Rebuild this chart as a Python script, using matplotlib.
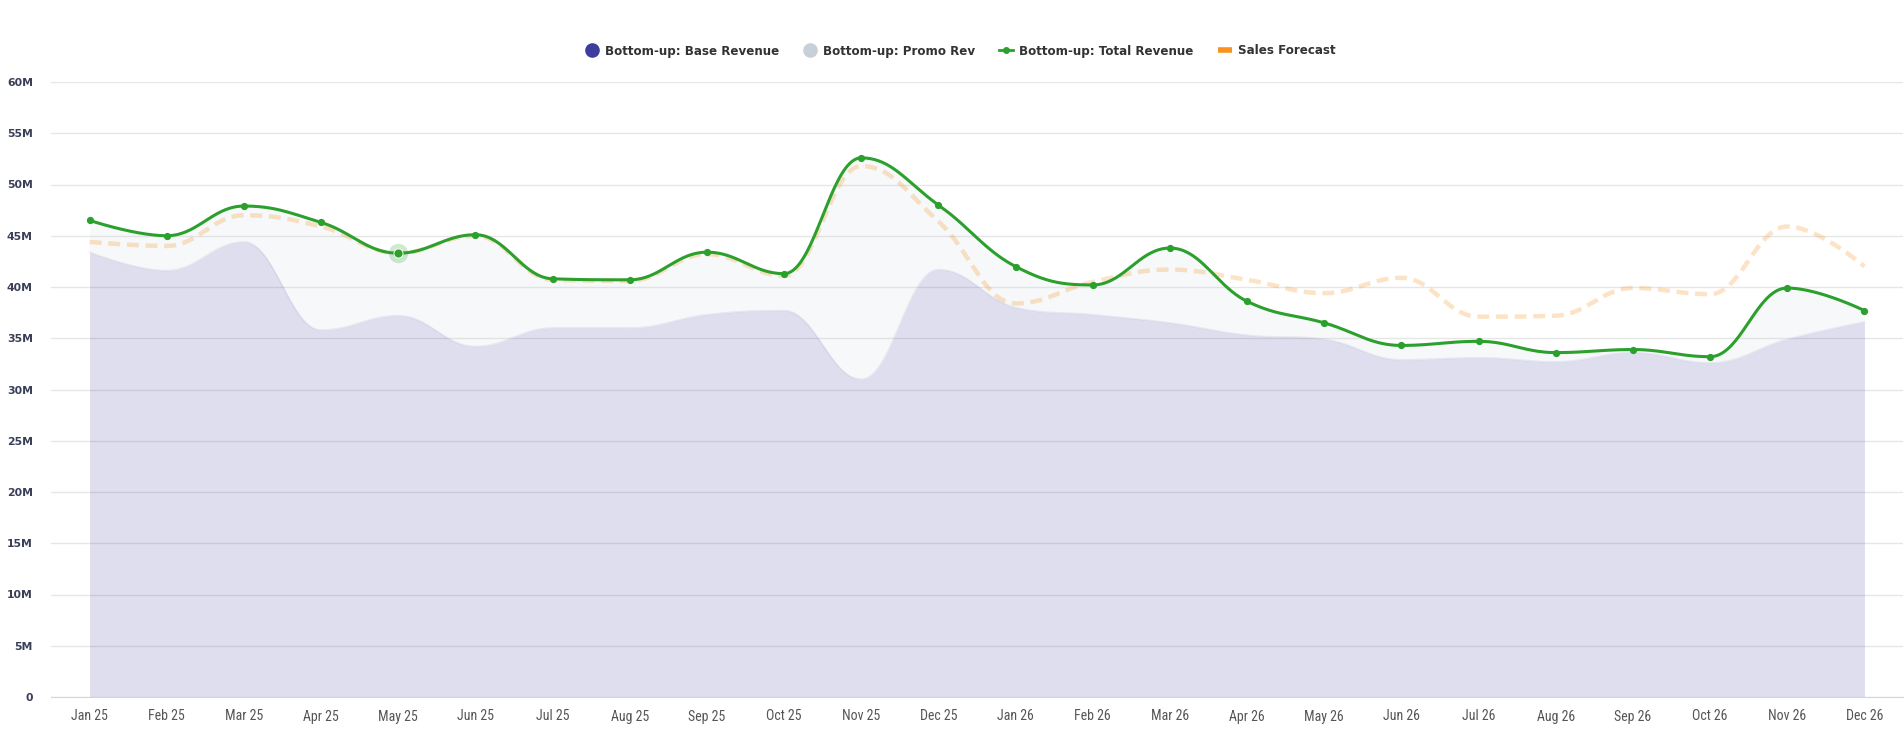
import numpy as np
import matplotlib
matplotlib.use('Agg')
from matplotlib import pyplot as plt
from matplotlib import font_manager
from matplotlib.lines import Line2D
from matplotlib.ticker import FuncFormatter

months = ['Jan 25', 'Feb 25', 'Mar 25', 'Apr 25', 'May 25', 'Jun 25', 'Jul 25', 'Aug 25',
          'Sep 25', 'Oct 25', 'Nov 25', 'Dec 25', 'Jan 26', 'Feb 26', 'Mar 26', 'Apr 26',
          'May 26', 'Jun 26', 'Jul 26', 'Aug 26', 'Sep 26', 'Oct 26', 'Nov 26', 'Dec 26']

# values in millions
base_rev = [43.4, 41.6, 44.4, 35.8, 37.2, 34.2, 36.0, 36.0, 37.3, 37.7, 31.0, 41.7,
            38.0, 37.3, 36.5, 35.3, 34.9, 32.9, 33.1, 32.7, 33.6, 32.6, 34.9, 36.6]
promo_rev = [3.1, 3.4, 3.5, 10.5, 6.1, 10.9, 4.8, 4.7, 6.1, 3.6, 21.6, 6.3,
             4.0, 2.9, 7.3, 3.3, 1.6, 1.4, 1.6, 0.9, 0.3, 0.6, 5.0, 1.1]
total_rev = [46.5, 45.0, 47.9, 46.3, 43.3, 45.1, 40.8, 40.7, 43.4, 41.3, 52.6, 48.0,
             42.0, 40.2, 43.8, 38.6, 36.5, 34.3, 34.7, 33.6, 33.9, 33.2, 39.9, 37.7]
sales_forecast = [44.4, 44.0, 47.0, 45.9, 43.3, 45.0, 40.7, 40.6, 43.2, 41.1, 51.8, 46.4,
                  38.4, 40.5, 41.7, 40.7, 39.4, 40.9, 37.1, 37.2, 39.9, 39.3, 45.9, 42.0]
hover_idx = 4

BASE_C = '#3d3d9e'
PROMO_C = '#c7d0d9'
TOTAL_C = '#2ca02c'
FCST_C = '#f7931e'


def narrow_font():
    # pick a condensed face for the month labels if one is installed
    fonts = font_manager.fontManager.ttflist
    names = {f.name for f in fonts}
    for fam in ['Liberation Sans Narrow', 'Roboto Condensed', 'Open Sans Condensed',
                'DejaVu Sans Condensed', 'Noto Sans Condensed']:
        if fam in names:
            return {'family': fam}
    for f in fonts:
        if f.name == 'DejaVu Sans' and f.stretch == 'condensed' and f.weight in (400, 'normal'):
            return {'family': 'DejaVu Sans', 'stretch': 'condensed'}
    for f in fonts:
        if f.name in ('Open Sans', 'Roboto', 'Noto Sans') and f.stretch == 'condensed':
            return {'family': f.name, 'stretch': 'condensed'}
    return {'family': 'DejaVu Sans'}


def spline(xs, ys, smoothing=1.5, n=40):
    # bezier spline like the one highcharts draws for 'spline' series
    xs = np.asarray(xs, float)
    ys = np.asarray(ys, float)
    N = len(xs)
    lc = [None] * N
    rc = [None] * N
    denom = smoothing + 1
    for i in range(1, N - 1):
        lx, ly = xs[i - 1], ys[i - 1]
        px, py = xs[i], ys[i]
        nx, ny = xs[i + 1], ys[i + 1]
        lcx = (smoothing * px + lx) / denom
        lcy = (smoothing * py + ly) / denom
        rcx = (smoothing * px + nx) / denom
        rcy = (smoothing * py + ny) / denom
        corr = (rcy - lcy) * (rcx - px) / (rcx - lcx) + py - rcy
        lcy += corr
        rcy += corr
        if lcy > ly and lcy > py:
            lcy = max(ly, py)
            rcy = 2 * py - lcy
        elif lcy < ly and lcy < py:
            lcy = min(ly, py)
            rcy = 2 * py - lcy
        if rcy > ny and rcy > py:
            rcy = max(ny, py)
            lcy = 2 * py - rcy
        elif rcy < ny and rcy < py:
            rcy = min(ny, py)
            lcy = 2 * py - rcy
        lc[i] = (lcx, lcy)
        rc[i] = (rcx, rcy)
    t = np.linspace(0, 1, n)
    ox, oy = [], []
    for i in range(1, N):
        p0 = (xs[i - 1], ys[i - 1])
        p3 = (xs[i], ys[i])
        p1 = rc[i - 1] or p0
        p2 = lc[i] or p3
        a = (1 - t) ** 3
        b = 3 * (1 - t) ** 2 * t
        c = 3 * (1 - t) * t ** 2
        d = t ** 3
        bx = a * p0[0] + b * p1[0] + c * p2[0] + d * p3[0]
        by = a * p0[1] + b * p1[1] + c * p2[1] + d * p3[1]
        if i > 1:
            bx, by = bx[1:], by[1:]
        ox.append(bx)
        oy.append(by)
    return np.concatenate(ox), np.concatenate(oy)


x = np.arange(len(months))
stack_top = np.array(base_rev) + np.array(promo_rev)

sx, s_base = spline(x, base_rev)
_, s_stack = spline(x, stack_top)
_, s_total = spline(x, total_rev)
_, s_fcst = spline(x, sales_forecast)

fig = plt.figure(figsize=(19.04, 7.29), dpi=100)
ax = fig.add_axes([51 / 1904, 32 / 729, 1852 / 1904, 615 / 729])

ax.fill_between(sx, 0, s_base, color=BASE_C, alpha=0.17, lw=0)
ax.plot(sx, s_base, color=BASE_C, alpha=0.08, lw=1.2)
ax.fill_between(sx, s_base, s_stack, color=PROMO_C, alpha=0.15, lw=0)

ax.plot(sx, s_fcst, color=FCST_C, alpha=0.25, lw=3.2, dashes=(2.7, 1.5))

ax.plot(sx, s_total, color=TOTAL_C, lw=2.2, solid_capstyle='round', zorder=4)
ax.plot(x, total_rev, 'o', color=TOTAL_C, ms=4.2, zorder=5)
# hovered point
ax.plot(x[hover_idx], total_rev[hover_idx], 'o', color=TOTAL_C, ms=14, alpha=0.22,
        mec='none', zorder=5)
ax.plot(x[hover_idx], total_rev[hover_idx], 'o', color=TOTAL_C, ms=6.5, mec='white',
        mew=0.6, zorder=6)

ax.set_xlim(-0.5, len(months) - 0.5)
ax.set_ylim(0, 60)
ax.set_yticks(np.arange(0, 61, 5))
ax.yaxis.set_major_formatter(FuncFormatter(lambda v, p: '0' if v == 0 else f'{int(v)}M'))
ax.set_xticks(x)
nf = narrow_font()
ax.set_xticklabels(months, fontsize=10 if len(nf) > 1 or nf['family'] != 'DejaVu Sans' else 8.8,
                   color='#555555', **nf)

ax.grid(axis='y', color='#e6e6e6', lw=1)
ax.set_axisbelow(True)
for s in ['top', 'right', 'left']:
    ax.spines[s].set_visible(False)
ax.spines['bottom'].set_color('#ccd6eb')
ax.tick_params(axis='x', length=0, pad=9)
ax.tick_params(axis='y', length=0, pad=13, labelsize=7.8, labelcolor='#3a3f58')
for lbl in ax.get_yticklabels():
    lbl.set_fontweight('bold')

handles = [
    Line2D([], [], marker='o', ls='none', ms=9.5, color=BASE_C),
    Line2D([], [], marker='o', ls='none', ms=9.5, color=PROMO_C),
    Line2D([], [], marker='o', ms=4, lw=2, color=TOTAL_C),
    Line2D([], [], lw=4, color=FCST_C, solid_capstyle='butt'),
]
labels = ['Bottom-up: Base Revenue', 'Bottom-up: Promo Rev',
          'Bottom-up: Total Revenue', 'Sales Forecast']
leg = fig.legend(handles, labels, loc='center', bbox_to_anchor=(960 / 1904, 1 - 51 / 729),
                 ncol=4, frameon=False, handlelength=1.2, handletextpad=0.5,
                 columnspacing=2.0, prop={'weight': 'bold', 'size': 8.6})
for txt in leg.get_texts():
    txt.set_color('#333333')

fig.savefig('out.png', dpi=100)
